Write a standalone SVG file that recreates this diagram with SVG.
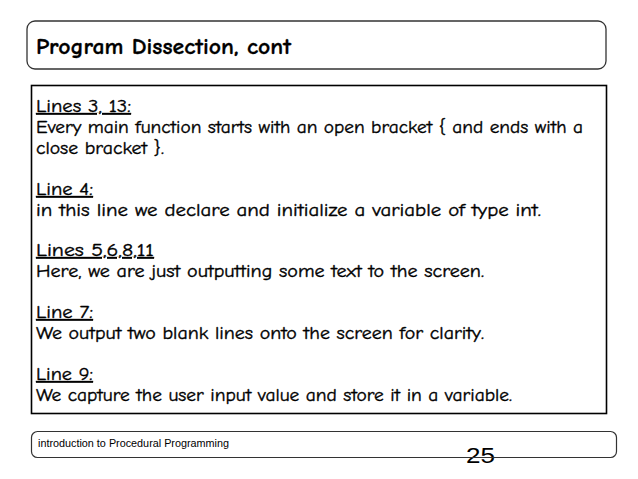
<svg xmlns="http://www.w3.org/2000/svg" width="638" height="479" viewBox="0 0 638 479">
<style>
.body{font-family:"Comic Sans MS","Comic Neue","Noto Sans",sans-serif;font-size:17.5px;fill:#000;stroke:#000;stroke-width:0.35}
.u{text-decoration:underline}
.title{font-family:"Comic Sans MS","Comic Neue","Noto Sans",sans-serif;font-size:22px;font-weight:bold;fill:#000;stroke:#000;stroke-width:0.3}
.foot{font-family:"Liberation Sans",Arial,sans-serif;fill:#000}
</style>
<rect width="638" height="479" fill="#fff"/>
<g id="title">
<rect x="27" y="21" width="579" height="48" rx="8" ry="8" fill="#fff" stroke="#333" stroke-width="1.3"/>
<text class="title" x="36" y="54" textLength="255" lengthAdjust="spacingAndGlyphs">Program Dissection, cont</text>
</g>
<g id="content">
<rect x="31.5" y="85.5" width="575" height="328" fill="#fff" stroke="#000" stroke-width="1.6"/>
<text class="body u" x="36" y="112" textLength="95" lengthAdjust="spacingAndGlyphs">Lines 3, 13:</text>
<text class="body" x="36" y="133" textLength="547" lengthAdjust="spacingAndGlyphs">Every main function starts with an open bracket { and ends with a</text>
<text class="body" x="36" y="154" textLength="128" lengthAdjust="spacingAndGlyphs">close bracket }.</text>
<text class="body u" x="36" y="195" textLength="57" lengthAdjust="spacingAndGlyphs">Line 4:</text>
<text class="body" x="36" y="216" textLength="505" lengthAdjust="spacingAndGlyphs">in this line we declare and initialize a variable of type int.</text>
<text class="body u" x="36" y="256" textLength="118" lengthAdjust="spacingAndGlyphs">Lines 5,6,8,11</text>
<text class="body" x="36" y="277" textLength="448" lengthAdjust="spacingAndGlyphs">Here, we are just outputting some text to the screen.</text>
<text class="body u" x="36" y="318" textLength="57" lengthAdjust="spacingAndGlyphs">Line 7:</text>
<text class="body" x="36" y="339" textLength="448" lengthAdjust="spacingAndGlyphs">We output two blank lines onto the screen for clarity.</text>
<text class="body u" x="36" y="380" textLength="57" lengthAdjust="spacingAndGlyphs">Line 9:</text>
<text class="body" x="36" y="401" textLength="476" lengthAdjust="spacingAndGlyphs">We capture the user input value and store it in a variable.</text>
</g>
<g id="footer">
<text class="foot" x="466" y="463" font-size="22" textLength="29" lengthAdjust="spacingAndGlyphs">25</text>
<rect x="31.5" y="431.5" width="585" height="26" rx="6" ry="6" fill="none" stroke="#333" stroke-width="1.2"/>
<text class="foot" x="38" y="447" font-size="11" textLength="191" lengthAdjust="spacingAndGlyphs">introduction to Procedural Programming</text>
</g>
</svg>
